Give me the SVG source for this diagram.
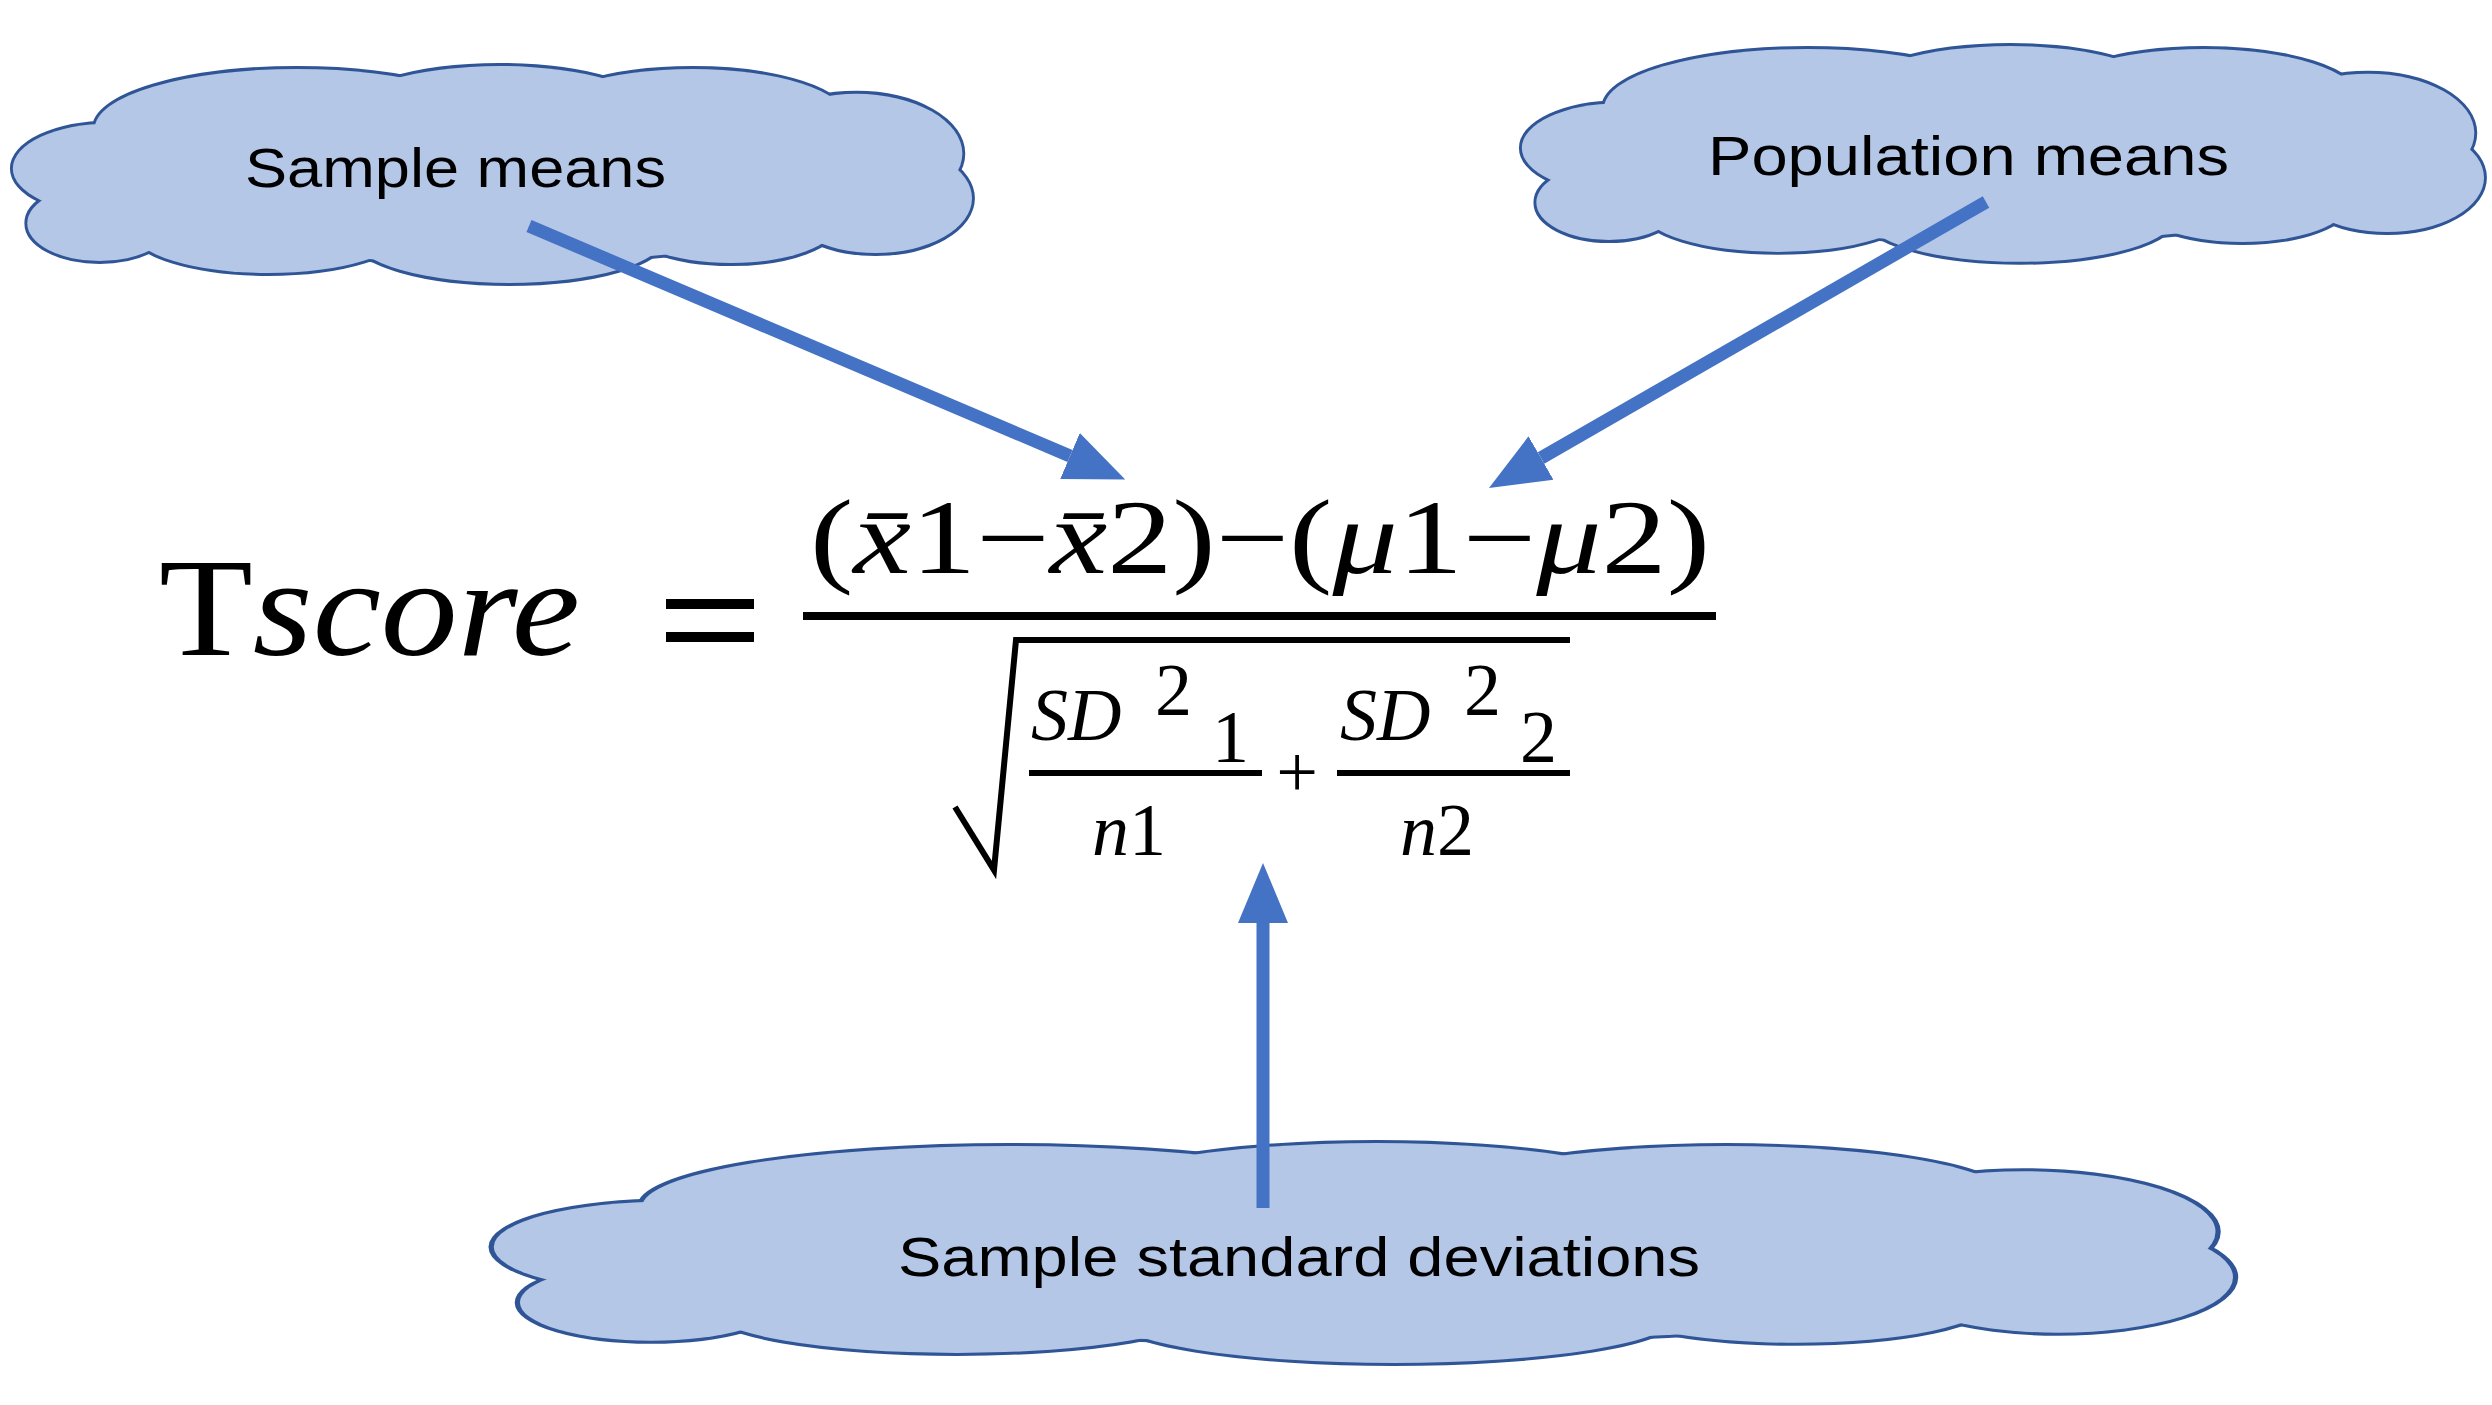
<svg xmlns="http://www.w3.org/2000/svg" xmlns:xlink="http://www.w3.org/1999/xlink" width="2492" height="1405" viewBox="0 0 2492 1405">
<style>
.cs{fill:none;stroke:#2f5597;stroke-width:6}
.cf{fill:#b4c7e7;stroke:none}
.lbl{font-family:"Liberation Sans",Arial,sans-serif;font-size:56px;fill:#000}
.m{font-family:"Liberation Serif","DejaVu Serif",serif;fill:#000}
.i{font-style:italic}
.arr{stroke:#4472c4;stroke-width:13;fill:none}
</style>
<defs>
<g id="lobes">
<ellipse cx="105" cy="105" rx="100" ry="45"/><ellipse cx="95" cy="160" rx="75" ry="38"/>
<ellipse cx="300" cy="65" rx="210" ry="60"/><ellipse cx="510" cy="50" rx="160" ry="48"/>
<ellipse cx="710" cy="55" rx="160" ry="50"/><ellipse cx="880" cy="90" rx="110" ry="60"/>
<ellipse cx="900" cy="135" rx="100" ry="55"/><ellipse cx="750" cy="160" rx="110" ry="40"/>
<ellipse cx="520" cy="175" rx="160" ry="45"/><ellipse cx="270" cy="168" rx="140" ry="42"/>
<ellipse cx="500" cy="115" rx="420" ry="85"/>
</g>
<g id="cloud">
<use xlink:href="#lobes" class="cs" vector-effect="non-scaling-stroke"/>
<use xlink:href="#lobes" class="cf"/>
</g>
<marker id="ah" markerUnits="userSpaceOnUse" markerWidth="70" markerHeight="60" refX="0" refY="30" orient="auto" viewBox="0 0 70 60">
<path d="M0,5 L60,30 L0,55 z" fill="#4472c4"/>
</marker>
</defs>
<rect width="2492" height="1405" fill="#fff"/>
<g id="node-sample-means">
<g transform="translate(8,64) scale(0.964,0.995)"><use xlink:href="#cloud"/></g>
<text class="lbl" x="245" y="187" textLength="421" lengthAdjust="spacingAndGlyphs">Sample means</text>
</g>
<g id="node-population-means">
<g transform="translate(1517,44) scale(0.967,0.99)"><use xlink:href="#cloud"/></g>
<text class="lbl" x="1708" y="175" textLength="521" lengthAdjust="spacingAndGlyphs">Population means</text>
</g>
<g id="node-sample-sd">
<g transform="translate(485,1141) scale(1.748,1.009)"><use xlink:href="#cloud"/></g>
<text class="lbl" x="898" y="1276" textLength="802" lengthAdjust="spacingAndGlyphs">Sample standard deviations</text>
</g>
<g id="formula">
<text class="m" x="159" y="655" font-size="140" textLength="421" lengthAdjust="spacingAndGlyphs">T<tspan class="i">score</tspan></text>
<rect x="666" y="599" width="88" height="10"/><rect x="666" y="632" width="88" height="10"/>
<text class="m" x="810" y="573" font-size="105" textLength="900" lengthAdjust="spacingAndGlyphs">(<tspan class="i">x̄</tspan>1−<tspan class="i">x̄</tspan>2)−(<tspan class="i">μ</tspan>1−<tspan class="i">μ</tspan>2)</text>
<rect x="803" y="612" width="913" height="8"/>
<path d="M955,807 L994,870 L1016,640 L1570,640" fill="none" stroke="#000" stroke-width="6"/>
<text class="m i" x="1031" y="740" font-size="74">SD</text>
<text class="m" x="1155" y="715" font-size="74">2</text>
<text class="m" x="1212" y="762" font-size="74">1</text>
<rect x="1029" y="770" width="233" height="6"/>
<text class="m" x="1092" y="855" font-size="74"><tspan class="i">n</tspan>1</text>
<text class="m" x="1297" y="797" font-size="74" text-anchor="middle">+</text>
<text class="m i" x="1340" y="740" font-size="74">SD</text>
<text class="m" x="1464" y="715" font-size="74">2</text>
<text class="m" x="1520" y="762" font-size="74">2</text>
<rect x="1337" y="770" width="233" height="6"/>
<text class="m" x="1400" y="855" font-size="74"><tspan class="i">n</tspan>2</text>
</g>
<g id="connectors">
<line class="arr" x1="529" y1="226" x2="1070" y2="456" marker-end="url(#ah)"/>
<line class="arr" x1="1986" y1="202" x2="1541" y2="458" marker-end="url(#ah)"/>
<line class="arr" x1="1263" y1="1208" x2="1263" y2="923" marker-end="url(#ah)"/>
</g>
</svg>
